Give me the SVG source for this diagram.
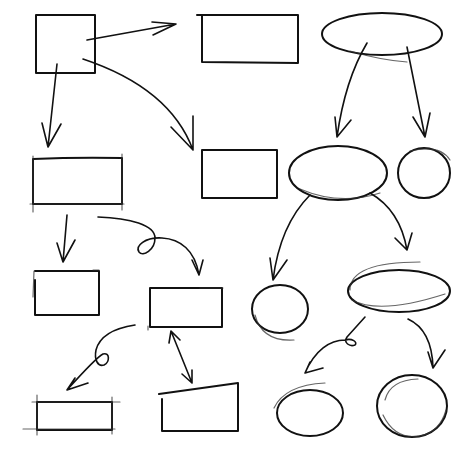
<svg xmlns="http://www.w3.org/2000/svg" width="474" height="449" viewBox="0 0 474 449">
<style>
.s{fill:none;stroke:#111;stroke-width:2;stroke-linecap:round;stroke-linejoin:round}
.t{fill:none;stroke:#333;stroke-width:1.2;stroke-linecap:round;opacity:0.75}
.c{fill:none;stroke:#111;stroke-width:1.6;stroke-linecap:round;stroke-linejoin:round}
</style>
<rect width="474" height="449" fill="#fff"/>
<g id="box1"><rect class="s" x="36" y="15" width="59" height="58"/></g>
<g id="box2"><path class="s" d="M197 15 H298 V63 L202 62 V15"/></g>
<g id="box3"><path class="s" d="M33 159 Q78 157 122 158 V204 H33 Z"/><path class="t" d="M33 156 V212 M30 204 H124 M122 154 V210"/></g>
<g id="box4"><rect class="s" x="202" y="150" width="75" height="48"/></g>
<g id="box5"><path class="s" d="M35 271 H99 V315 H35 V280"/><path class="t" d="M34 271 L33 297 M93 270 H99"/></g>
<g id="box6"><path class="s" d="M150 288 H222 V327 H150 Z"/><path class="t" d="M200 288 H223 M148 326 V330"/></g>
<g id="box7"><path class="s" d="M37 402 H112 V430 H37 Z"/><path class="t" d="M32 402 H120 M23 429 H115 M37 395 V435 M112 397 V434"/></g>
<g id="box8"><path class="s" d="M159 394 L238 383 V431 H162 V399"/></g>
<g id="ell1"><ellipse class="s" cx="382" cy="34" rx="60" ry="21"/><path class="t" d="M350 51 Q380 60 407 62"/></g>
<g id="ell2"><ellipse class="s" cx="338" cy="173" rx="49" ry="27"/><path class="t" d="M300 189 Q340 206 380 193"/></g>
<g id="circ1"><ellipse class="s" cx="424" cy="173" rx="26" ry="25"/><path class="t" d="M410 151 Q440 144 450 160"/></g>
<g id="circ2"><ellipse class="s" cx="280" cy="309" rx="28" ry="24"/><path class="t" d="M255 315 Q262 342 294 340"/></g>
<g id="ell3"><ellipse class="s" cx="399" cy="291" rx="51" ry="21"/><path class="t" d="M350 290 Q350 262 420 262 M352 300 Q380 315 445 294"/></g>
<g id="ell4"><ellipse class="s" cx="310" cy="413" rx="33" ry="23"/><path class="t" d="M274 408 Q285 385 325 383"/></g>
<g id="circ3"><ellipse class="s" cx="412" cy="406" rx="35" ry="31"/><path class="t" d="M385 400 Q390 380 418 379 M383 415 Q395 440 420 436 Q440 432 446 410"/></g>
<g id="connectors">
<path class="c" d="M87 40 L176 24 M152 22 L176 24 L153 35"/>
<path class="c" d="M83 59 Q170 88 193 150 M171 127 L193 150 L193 116"/>
<path class="c" d="M57 64 L48 147 M42 123 L48 147 L61 124"/>
<path class="c" d="M367 43 Q345 80 337 137 M335 117 L337 137 L351 120"/>
<path class="c" d="M407 47 L425 137 M413 117 L425 137 L430 113"/>
<path class="c" d="M67 215 L63 262 M57 243 L63 262 L75 240"/>
<path class="c" d="M98 217 C130 218 155 225 155 238 C155 250 143 257 139 252 C135 246 145 237 162 238 C180 239 195 250 199 275 M192 260 L199 275 L203 260"/>
<path class="c" d="M135 325 C115 328 100 335 96 350 C94 360 98 367 104 365 C110 362 110 352 103 354 C97 357 85 370 67 390 M75 378 L67 390 L88 383"/>
<path class="c" d="M171 331 L192 383 M169 343 L171 331 L180 340 M182 374 L192 383 L192 370"/>
<path class="c" d="M310 195 Q280 225 273 280 M270 258 L273 280 L287 260"/>
<path class="c" d="M370 193 Q400 210 407 250 M395 238 L407 250 L412 233"/>
<path class="c" d="M365 317 L347 337 C343 343 350 347 355 345 C358 342 352 338 345 340 C330 340 315 350 305 373 M310 362 L305 373 L323 368"/>
<path class="c" d="M408 319 Q432 330 433 368 M428 352 L433 368 L445 350"/>
</g>
</svg>
